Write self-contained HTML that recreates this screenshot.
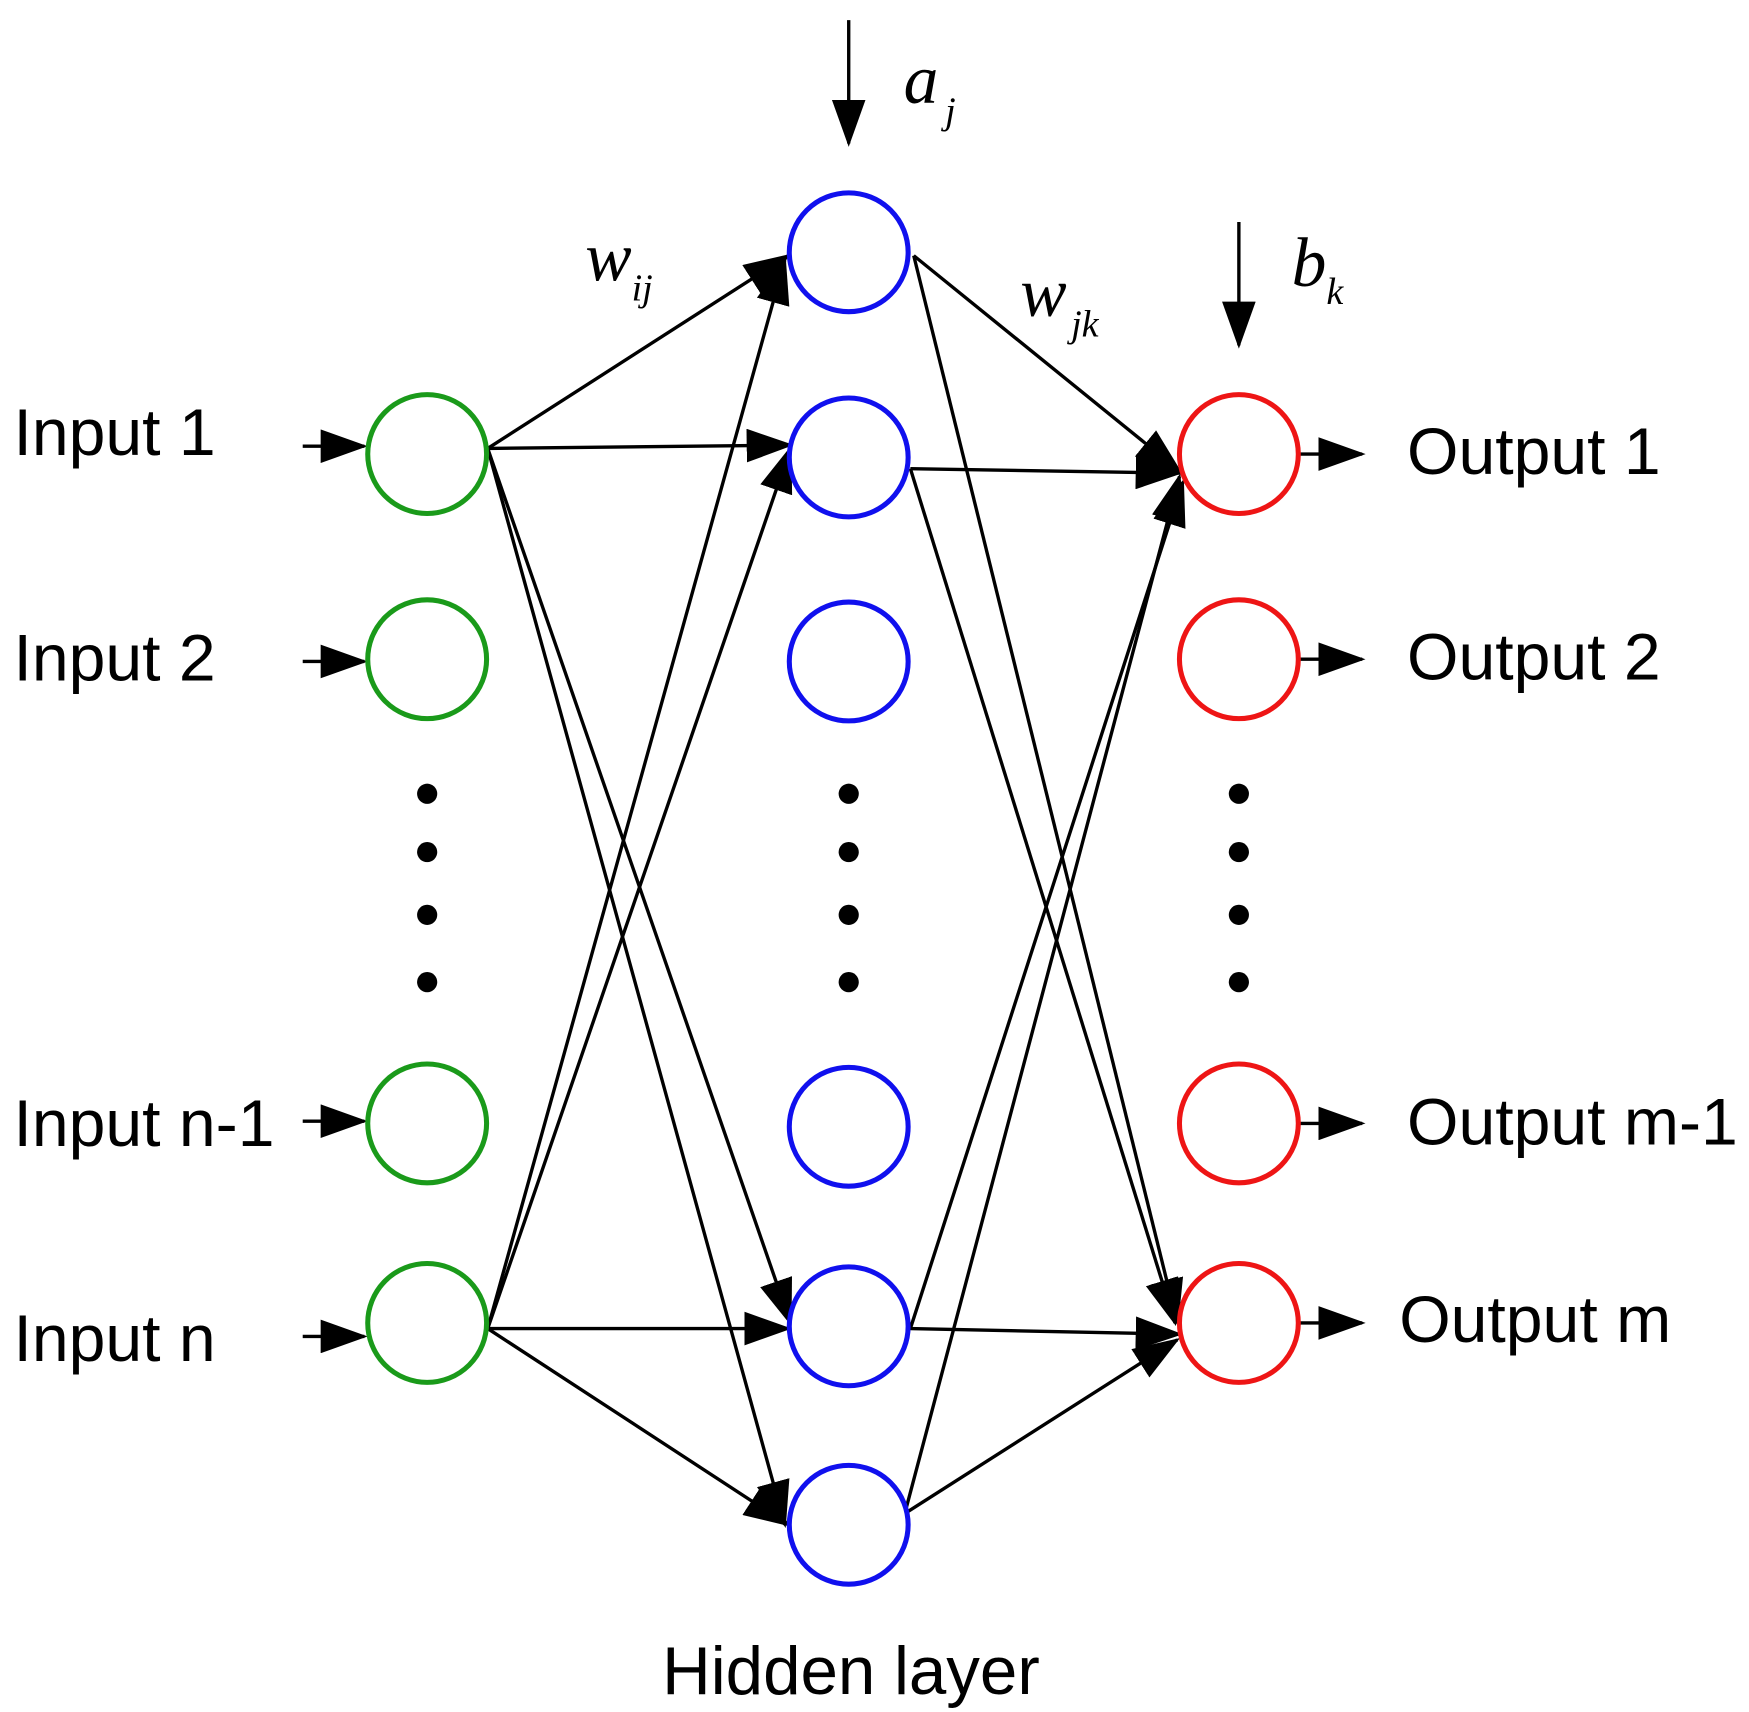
<!DOCTYPE html>
<html><head><meta charset="utf-8"><style>html,body{margin:0;padding:0;background:#fff}svg{display:block}</style></head>
<body>
<svg width="1749" height="1712" viewBox="0 0 1560 1527" preserveAspectRatio="none" xmlns="http://www.w3.org/2000/svg">
<defs>
<marker id="ah" markerWidth="14" markerHeight="10" refX="13" refY="5" orient="auto" markerUnits="strokeWidth">
<path d="M0,0 L14,5 L0,10 z" fill="#000"/>
</marker>
</defs>
<g stroke="#000" stroke-width="3" fill="none" marker-end="url(#ah)">
<line x1="270" y1="398" x2="325" y2="398"/>
<line x1="270" y1="590" x2="325" y2="590"/>
<line x1="270" y1="1000" x2="325" y2="1000"/>
<line x1="270" y1="1192" x2="325" y2="1192"/>
<line x1="1160" y1="405" x2="1215" y2="405"/>
<line x1="1160" y1="588" x2="1215" y2="588"/>
<line x1="1160" y1="1002" x2="1215" y2="1002"/>
<line x1="1160" y1="1180" x2="1215" y2="1180"/>
<line x1="757" y1="18" x2="757" y2="128"/>
<line x1="1105" y1="198" x2="1105" y2="308"/>
<line x1="435" y1="400" x2="703" y2="228"/>
<line x1="435" y1="400" x2="705" y2="397"/>
<line x1="435" y1="400" x2="705" y2="1180"/>
<line x1="435" y1="400" x2="700" y2="1360"/>
<line x1="435" y1="1185" x2="700" y2="232"/>
<line x1="435" y1="1185" x2="705" y2="400"/>
<line x1="435" y1="1185" x2="703" y2="1185"/>
<line x1="435" y1="1185" x2="703" y2="1360"/>
<line x1="815" y1="228" x2="1052" y2="420"/>
<line x1="815" y1="228" x2="1050" y2="1180"/>
<line x1="812" y1="418" x2="1052" y2="422"/>
<line x1="812" y1="418" x2="1048" y2="1180"/>
<line x1="812" y1="1185" x2="1055" y2="430"/>
<line x1="812" y1="1185" x2="1052" y2="1190"/>
<line x1="807" y1="1350" x2="1052" y2="425"/>
<line x1="807" y1="1350" x2="1050" y2="1195"/>
</g>
<g fill="#fff" stroke-width="4.5">
<g stroke="#1a9a1a">
<circle cx="381" cy="405" r="53"/><circle cx="381" cy="588" r="53"/><circle cx="381" cy="1002" r="53"/><circle cx="381" cy="1180" r="53"/>
</g>
<g stroke="#1010ee">
<circle cx="757" cy="225" r="53"/><circle cx="757" cy="408" r="53"/><circle cx="757" cy="590" r="53"/><circle cx="757" cy="1005" r="53"/><circle cx="757" cy="1183" r="53"/><circle cx="757" cy="1360" r="53"/>
</g>
<g stroke="#ee1515">
<circle cx="1105" cy="405" r="53"/><circle cx="1105" cy="588" r="53"/><circle cx="1105" cy="1002" r="53"/><circle cx="1105" cy="1180" r="53"/>
</g>
</g>
<g fill="#000">
<circle cx="381" cy="708" r="9"/><circle cx="381" cy="760" r="9"/><circle cx="381" cy="816" r="9"/><circle cx="381" cy="876" r="9"/>
<circle cx="757" cy="708" r="9"/><circle cx="757" cy="760" r="9"/><circle cx="757" cy="816" r="9"/><circle cx="757" cy="876" r="9"/>
<circle cx="1105" cy="708" r="9"/><circle cx="1105" cy="760" r="9"/><circle cx="1105" cy="816" r="9"/><circle cx="1105" cy="876" r="9"/>
</g>
<g font-family="Liberation Sans, sans-serif" font-size="59" fill="#000">
<text x="12" y="406">Input 1</text>
<text x="12" y="607">Input 2</text>
<text x="12" y="1022">Input n-1</text>
<text x="12" y="1214">Input n</text>
<text x="1255" y="423">Output 1</text>
<text x="1255" y="606">Output 2</text>
<text x="1255" y="1021">Output m-1</text>
<text x="1248" y="1197">Output m</text>
<text x="759" y="1511" text-anchor="middle" font-size="60">Hidden layer</text>
</g>
<g font-family="Liberation Serif, serif" font-style="italic" fill="#000">
<text x="522" y="250" font-size="62">w<tspan font-size="34" dy="18">ij</tspan></text>
<text x="806" y="92" font-size="62">a<tspan font-size="34" dy="18" dx="6">j</tspan></text>
<text x="910" y="282" font-size="62">w<tspan font-size="34" dy="18" dx="4">jk</tspan></text>
<text x="1152" y="255" font-size="62">b<tspan font-size="34" dy="16">k</tspan></text>
</g>
</svg>
</body></html>
